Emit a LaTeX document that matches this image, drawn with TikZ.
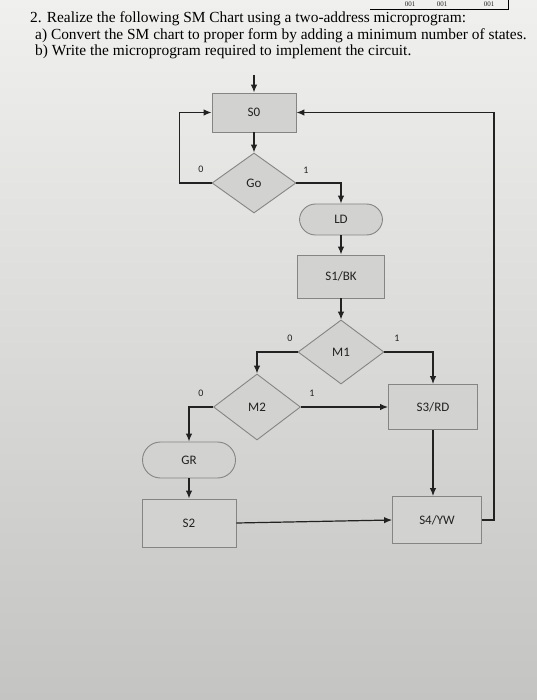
\documentclass[tikz,border=0pt]{standalone}
\usepackage{fontspec}
\setmainfont{Liberation Serif}
\newfontfamily\diafont{Carlito}
\usetikzlibrary{shapes.geometric,arrows.meta}
\definecolor{paperTop}{HTML}{F0F0EE}
\definecolor{paperBot}{HTML}{C4C4C2}
\definecolor{boxfill}{HTML}{D2D2D0}
\definecolor{boxline}{HTML}{858583}
\definecolor{ink}{HTML}{222222}
\tikzset{
  sbox/.style={draw=boxline, fill=boxfill, line width=0.9pt, inner sep=0pt, font=\diafont\fontsize{13}{15}\selectfont, text=ink},
  stadium/.style={sbox, rounded corners=16pt},
  dec/.style={sbox, diamond, inner sep=0pt},
  conn/.style={draw=ink, line width=1.2pt, -{Latex[length=8pt,width=6.5pt]}},
  lbl/.style={font=\diafont\fontsize{10}{11}\selectfont, text=ink, inner sep=0pt},
  title/.style={anchor=base west, inner sep=0pt, font=\fontsize{15.4}{17}\selectfont, text=black}
}
\begin{document}
\begin{tikzpicture}[x=1pt,y=-1pt]
\useasboundingbox (0,0) rectangle (537,700);
\shade[top color=paperTop, bottom color=paperBot] (0,0) rectangle (537,700);
% table remnant top right
\draw[black, line width=0.8pt] (370,9) -- (508,9) -- (508,-2);
\node[lbl, font=\fontsize{7}{8}\selectfont] (t1) at (410,4.5) {001};
\node[lbl, font=\fontsize{7}{8}\selectfont] (t2) at (442,4.5) {001};
\node[lbl, font=\fontsize{7}{8}\selectfont] (t3) at (489,4.5) {001};
% title
\node[title] (l1) at (30,23) {2. Realize the following SM Chart using a two-address microprogram:};
\node[title] (l2) at (35,40) {a) Convert the SM chart to proper form by adding a minimum number of states.};
\node[title] (l3) at (35,56) {b) Write the microprogram required to implement the circuit.};
% nodes
\coordinate (entry) at (254,75);
\node[sbox, minimum width=84pt, minimum height=39pt] (S0) at (254,112.5) {S0};
\node[dec, minimum width=84pt, minimum height=60pt] (Go) at (254,183) {Go};
\node[stadium, minimum width=83pt, minimum height=31pt] (LD) at (341,219.5) {LD};
\node[sbox, minimum width=87pt, minimum height=43pt] (S1) at (341,276.5) {S1/BK};
\node[dec, minimum width=86pt, minimum height=64pt] (M1) at (341,352) {M1};
\node[dec, minimum width=87pt, minimum height=66pt] (M2) at (257,407) {M2};
\node[sbox, minimum width=89pt, minimum height=45pt] (S3) at (433,407) {S3/RD};
\node[stadium, minimum width=93pt, minimum height=36pt, rounded corners=18pt] (GR) at (189,460) {GR};
\node[sbox, minimum width=94pt, minimum height=48pt] (S2) at (189,523) {S2};
\node[sbox, minimum width=89pt, minimum height=47pt] (S4) at (437,520) {S4/YW};
% connectors
\draw[conn] (entry) -- (S0.north);
\draw[conn] (S0.south) -- (Go.north);
\draw[conn] (Go.west) -- ++(-32,0) |- (S0.west);
\draw[conn] (Go.east) -| (LD.north);
\draw[conn] (LD.south) -- (S1.north);
\draw[conn] (S1.south) -- (M1.north);
\draw[conn] (M1.west) -| (M2.north);
\draw[conn] (M1.east) -| (S3.north);
\draw[conn] (M2.east) -- (S3.west);
\draw[conn] (M2.west) -| (GR.north);
\draw[conn] (GR.south) -- (S2.north);
\draw[conn] (S3.south) -- (S3.south |- S4.north);
\draw[conn] (S2.east) -- (S4.west);
\draw[conn] (S4.east) -- ++(12,0) |- (S0.east);
% labels
\node[lbl] (g0) at (201,169) {0};
\node[lbl] (g1) at (306,170) {1};
\node[lbl] (m10) at (290,338) {0};
\node[lbl] (m11) at (397,338) {1};
\node[lbl] (m20) at (201,393) {0};
\node[lbl] (m21) at (312,393) {1};
\end{tikzpicture}
\end{document}
